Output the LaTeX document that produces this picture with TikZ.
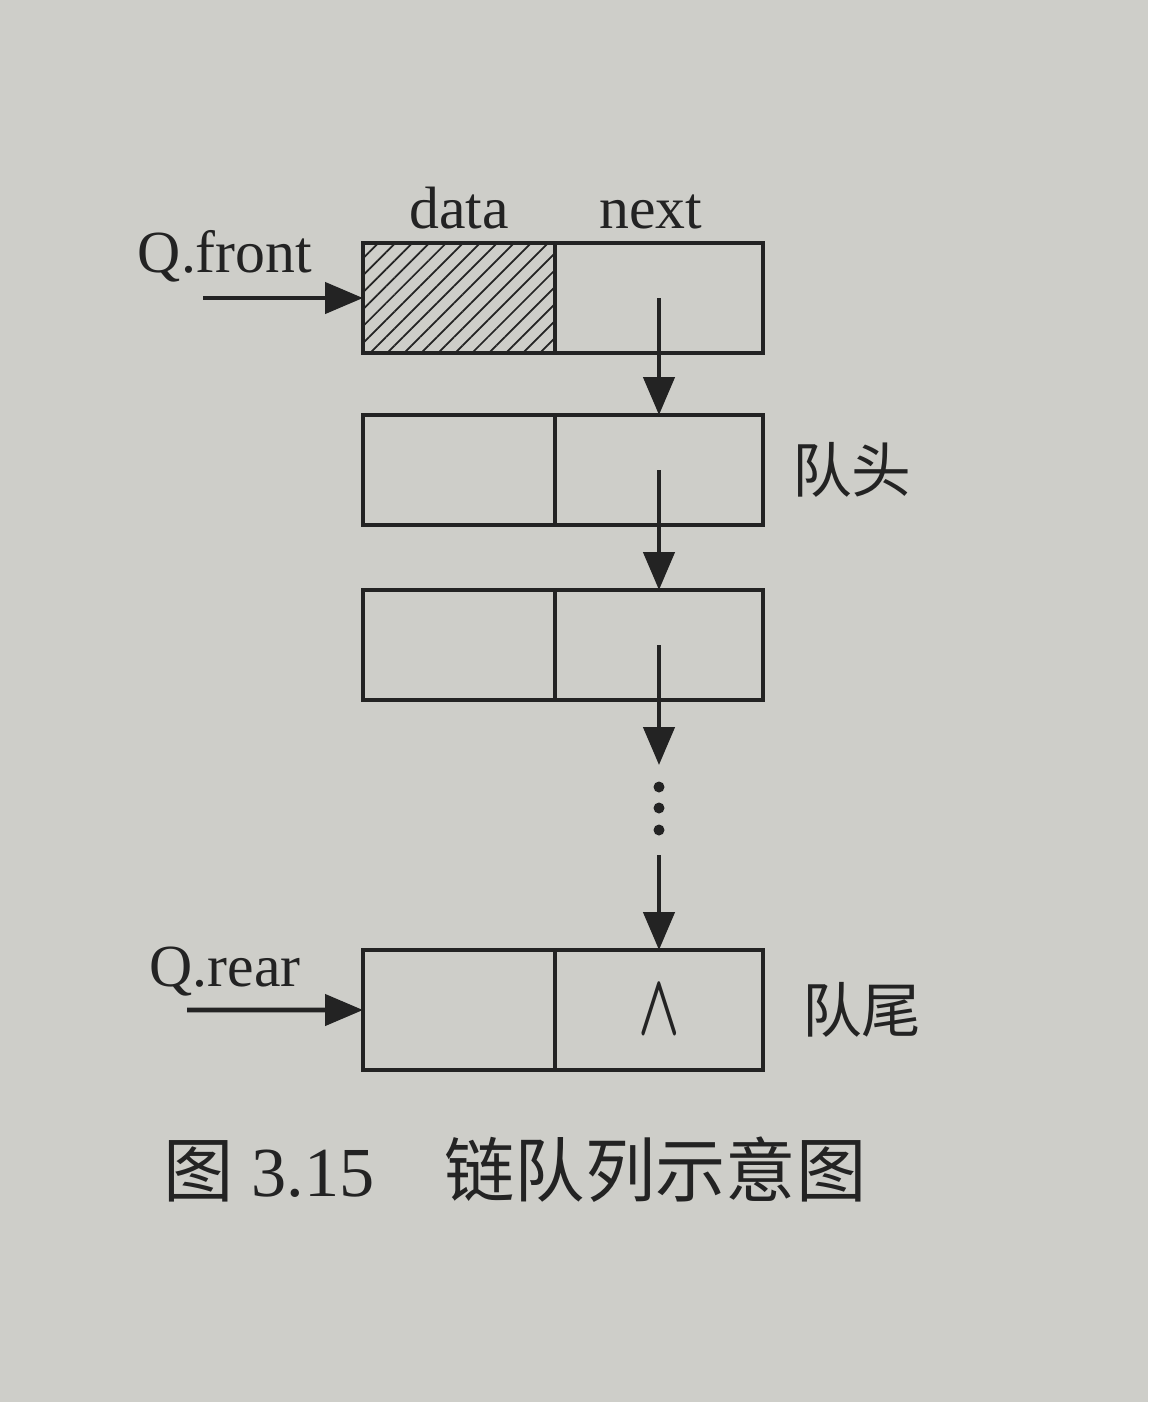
\documentclass[tikz,border=0pt]{standalone}
\usepackage{fontspec}
\setmainfont{Liberation Serif}
\newfontfamily\cjk{Noto Sans CJK SC}
\usepackage{graphicx}
\usepackage{tikz}
\usetikzlibrary{arrows.meta,positioning,patterns.meta}
\usepackage{xcolor}
\definecolor{paper}{RGB}{206,206,201}
\definecolor{ink}{RGB}{35,35,35}
\newcommand{\nilmark}{\scalebox{0.62}[1]{\fontsize{25}{25}\selectfont$\boldsymbol{\wedge}$}}
\usepackage{amsmath,amsbsy}

\begin{document}
\begin{tikzpicture}[->,>={Triangle[length=3.8mm,width=3.1mm]},line width=1.3pt,
                    color=ink,node distance=0.62cm,
                    font=\fontsize{17}{20}\selectfont]
  \tikzstyle{cell}=[draw=ink,rectangle,minimum height=1.1cm,inner sep=0pt,outer sep=0pt]
  \tikzstyle{datacell}=[cell,minimum width=1.92cm]
  \tikzstyle{nextcell}=[cell,minimum width=2.08cm]
  \tikzstyle{hatched}=[pattern={Lines[angle=45,distance=1.2mm,line width=0.5pt]},pattern color=ink]
  \tikzstyle{cjklabel}=[font=\cjk\fontsize{17}{20}\selectfont]

  \path[-,fill=paper,use as bounding box] (0,0) rectangle (11.48,-14.02);

  % queue nodes
  \node[datacell,hatched] (d1) at (4.59,-2.98) {};
  \node[nextcell]         (n1) [right=0pt of d1] {};
  \node[datacell]         (d2) [below=of d1] {};
  \node[nextcell]         (n2) [right=0pt of d2] {};
  \node[datacell]         (d3) [below=0.65cm of d2] {};
  \node[nextcell]         (n3) [right=0pt of d3] {};
  \node[datacell,minimum height=1.2cm] (d4) [below=2.5cm of d3] {};
  \node[nextcell,minimum height=1.2cm] (n4) [right=0pt of d4] {\nilmark};

  % labels
  \node (datalbl) [above=0pt of d1] {data};
  \node (nextlbl) [above=0pt of n1,xshift=-0.08cm] {next};
  \node (qfront) at (2.25,-2.56) {Q.front};
  \node (qrear)  at (2.25,-9.72) {Q.rear};
  \node[cjklabel] (headlbl) [right=0.15cm of n2] {队头};
  \node[cjklabel] (taillbl) [right=0.25cm of n4] {队尾};

  \coordinate (qfs) at (2.03,-2.98);
  \coordinate (qrs) at (1.87,-10.10);
  \coordinate[below=0.65cm of n3] (gapA);
  \coordinate[below=1.55cm of n3] (gapB);

  \draw (qfs) -- (d1.west);
  \draw (qrs) -- (d4.west);
  \draw (n1.center) -- (n2.north);
  \draw (n2.center) -- (n3.north);
  \draw (n3.center) -- (gapA);
  \draw (gapB) -- (n4.north);
  \foreach \dy in {0.87,1.08,1.30}
    \fill[-] ([yshift=-\dy cm]n3.south) circle (0.055cm);

  \node (caption) at (5.15,-11.70) [font=\fontsize{20}{24}\selectfont]
    {{\cjk 图} 3.15\quad{\cjk 链队列示意图}};
\end{tikzpicture}
\end{document}
